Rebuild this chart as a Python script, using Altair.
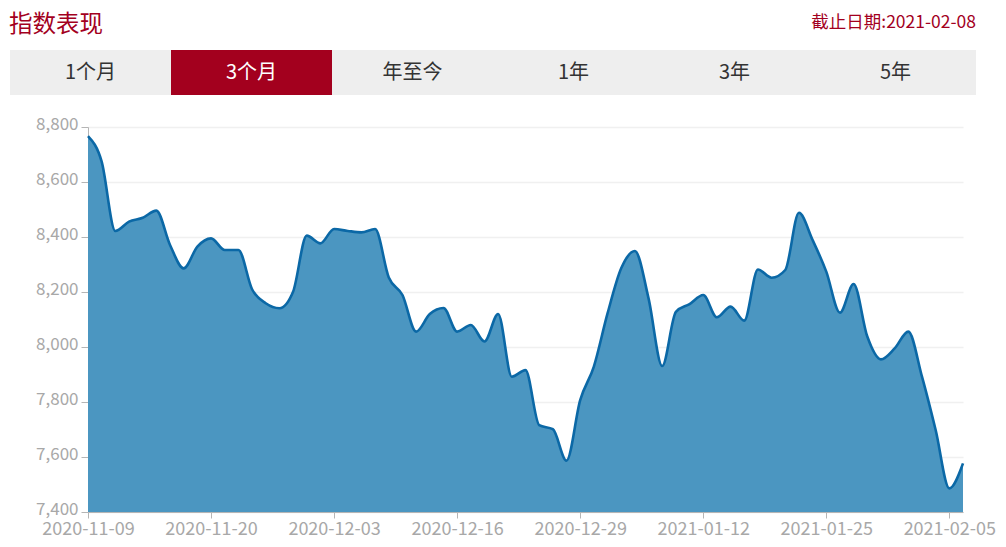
import altair as alt
import pandas as pd

# ---- data ----
dates = [
    "2020-11-09", "2020-11-10", "2020-11-11", "2020-11-12", "2020-11-13",
    "2020-11-16", "2020-11-17", "2020-11-18", "2020-11-19", "2020-11-20",
    "2020-11-23", "2020-11-24", "2020-11-25", "2020-11-26", "2020-11-27",
    "2020-11-30", "2020-12-01", "2020-12-02", "2020-12-03", "2020-12-04",
    "2020-12-07", "2020-12-08", "2020-12-09", "2020-12-10", "2020-12-11",
    "2020-12-14", "2020-12-15", "2020-12-16", "2020-12-17", "2020-12-18",
    "2020-12-21", "2020-12-22", "2020-12-23", "2020-12-24", "2020-12-25",
    "2020-12-28", "2020-12-29", "2020-12-30", "2020-12-31",
    "2021-01-04", "2021-01-05", "2021-01-06", "2021-01-07", "2021-01-08",
    "2021-01-11", "2021-01-12", "2021-01-13", "2021-01-14", "2021-01-15",
    "2021-01-18", "2021-01-19", "2021-01-20", "2021-01-21", "2021-01-22",
    "2021-01-25", "2021-01-26", "2021-01-27", "2021-01-28", "2021-01-29",
    "2021-02-01", "2021-02-02", "2021-02-03", "2021-02-04", "2021-02-05",
    "2021-02-08",
]
values = [
    8767, 8674, 8422, 8456, 8470, 8496, 8371, 8286, 8365, 8395,
    8353, 8353, 8210, 8159, 8141, 8201, 8405, 8377, 8429, 8422,
    8417, 8429, 8253, 8189, 8056, 8120, 8142, 8056, 8080, 8020,
    8120, 7892, 7916, 7716, 7701, 7587, 7807, 7929, 8122, 8286,
    8349, 8177, 7931, 8128, 8156, 8189, 8108, 8147, 8096, 8282,
    8252, 8280, 8488, 8389, 8274, 8125, 8229, 8038, 7955, 7995,
    8056, 7892, 7698, 7486, 7577,
]
x_tick_labels = ["2020-11-09", "2020-11-20", "2020-12-03", "2020-12-16",
                 "2020-12-29", "2021-01-12", "2021-01-25", "2021-02-05"]
y_ticks = [7400, 7600, 7800, 8000, 8200, 8400, 8600, 8800]
tabs = ["1个月", "3个月", "年至今", "1年", "3年", "5年"]
selected_tab = "3个月"
title_text = "指数表现"
date_text = "截止日期:2021-02-08"

df = pd.DataFrame({"date": dates, "value": values})

RED = "#a3001e"
FONT = "Noto Sans CJK SC"
LABEL_GRAY = "#a8a8a8"

x_enc = alt.X("date:O", sort=None,
              scale=alt.Scale(type="point", padding=0),
              axis=alt.Axis(values=x_tick_labels, labelAngle=0, title=None,
                            labelColor=LABEL_GRAY, labelFontSize=18, labelFont=FONT,
                            domainColor="#b5b5b5", tickColor="#b5b5b5", tickSize=6,
                            labelPadding=2, grid=False))
y_enc = alt.Y("value:Q",
              scale=alt.Scale(domain=[7400, 8800], nice=False, zero=False),
              axis=alt.Axis(values=y_ticks, format=",.0f", title=None,
                            labelColor=LABEL_GRAY, labelFontSize=17, labelFont=FONT,
                            domainColor="#b5b5b5", tickColor="#b5b5b5", tickSize=7,
                            labelPadding=3, labelOffset=-3, grid=True,
                            gridColor="#f0f0f0", gridWidth=1.5))

area = alt.Chart(df).mark_area(interpolate="monotone", color="#4b96c1", opacity=1).encode(
    x=x_enc, y=y_enc, y2=alt.datum(7400)
)
line = alt.Chart(df).mark_line(interpolate="monotone", color="#0b68a6", strokeWidth=2.6).encode(
    x=x_enc, y=y_enc
)

one = pd.DataFrame({"k": [0]})

header = []
# title
header.append(alt.Chart(pd.DataFrame({"t": [title_text]})).mark_text(
    align="left", baseline="middle", font=FONT, fontSize=23.5, color=RED
).encode(x=alt.value(-79), y=alt.value(-102), text="t:N"))
# cut-off date
header.append(alt.Chart(pd.DataFrame({"t": [date_text]})).mark_text(
    align="right", baseline="middle", font=FONT, fontSize=17.5, color=RED
).encode(x=alt.value(888), y=alt.value(-104), text="t:N"))
# tab bar background
header.append(alt.Chart(one).mark_rect(color="#eeeeee").encode(
    x=alt.value(-78), x2=alt.value(888), y=alt.value(-77), y2=alt.value(-32)))
# tabs
tab_w = (888 - (-78)) / len(tabs)
for i, t in enumerate(tabs):
    x0 = -78 + tab_w * i
    sel = (t == selected_tab)
    if sel:
        header.append(alt.Chart(one).mark_rect(color=RED).encode(
            x=alt.value(x0), x2=alt.value(x0 + tab_w), y=alt.value(-77), y2=alt.value(-32)))
    header.append(alt.Chart(pd.DataFrame({"t": [t]})).mark_text(
        align="center", baseline="middle", font=FONT, fontSize=20,
        color="#ffffff" if sel else "#333333"
    ).encode(x=alt.value(x0 + tab_w / 2), y=alt.value(-54), text="t:N"))

chart = alt.layer(area, line, *header).properties(
    width=875, height=385,
    padding={"left": 80, "top": 119, "right": 35, "bottom": 27},
    autosize=alt.AutoSizeParams(type="none"),
    background="#ffffff",
).configure_view(stroke=None)

chart.save("out.html", embed_options={"renderer": "svg", "actions": False})
